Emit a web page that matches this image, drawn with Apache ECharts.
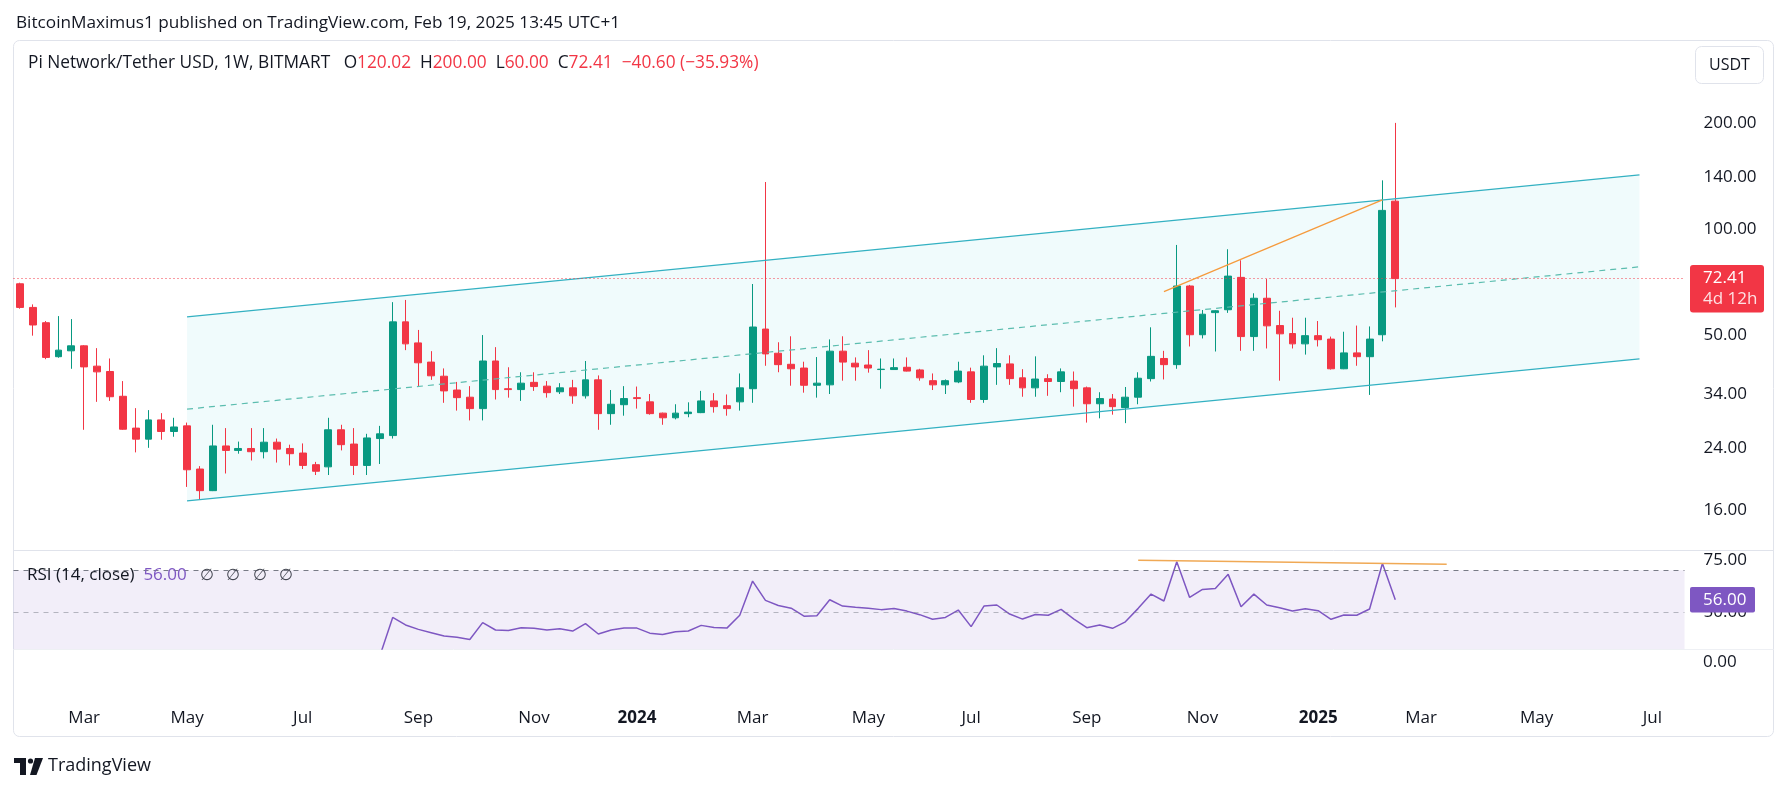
<!DOCTYPE html>
<html><head><meta charset="utf-8">
<script src="https://cdn.jsdelivr.net/npm/echarts@6/dist/echarts.min.js"></script>
<style>html,body{margin:0;padding:0;background:#fff}#c{width:1785px;height:791px}</style>
</head><body><div id="c"></div>
<script>
// ---------- DATA ----------
const firstWeek = '2023-01-30';   // Monday of first weekly candle
const weekCount = 130;            // weeks shown on the time scale (incl. future)
const opens = [70,60,54.3,43.5,45.2,46.7,40.9,39.5,33.6,27.3,
  25.4,28.8,26.7,27.7,20.9,18.15,24.3,23.6,23.9,23.4,
  24.9,23.9,23.2,21.5,21.2,27.0,24.6,21.4,25.5,26.0,
  54.6,47.6,42.0,38.3,35.0,33.4,31.0,42.3,35.3,35.1,
  36.8,35.9,34.6,35.5,33.7,37.4,30.0,31.8,33.3,32.4,
  30.1,29.2,30.0,30.2,32.6,31.6,32.4,35.3,52.1,44.5,
  41.4,40.4,36.1,36.2,45.1,41.7,41.2,40.0,40.0,40.6,
  39.9,37.2,36.2,36.9,39.4,32.9,40.7,41.5,37.9,35.5,
  37.7,37.0,37.1,35.5,32.0,33.0,31.2,33.4,37.7,43.0,
  41.3,69.0,50.2,58.0,59.1,73.0,49.6,63.7,53.3,50.6,
  47.3,49.9,48.8,40.2,44.6,43.5,50.2,120.02];
const closes = [60,53.5,43.3,45.4,46.7,40.7,39.4,33.5,27.1,25.4,
  28.8,26.7,27.5,20.8,18.15,24.3,23.6,23.9,23.4,24.9,
  23.8,23.1,21.4,20.6,27.0,24.5,21.4,25.6,26.3,54.6,
  47.3,41.8,38.4,34.8,33.3,31.0,42.3,35.1,35.1,36.6,
  35.8,34.4,35.5,33.7,37.4,30.0,31.9,33.1,33.1,30.0,
  29.2,30.1,30.3,32.6,31.4,31.0,35.5,52.8,44.3,41.3,
  40.2,36.1,36.6,45.1,42.0,40.7,40.4,40.1,40.5,39.6,
  37.9,36.2,37.2,39.6,32.9,40.9,41.6,37.7,35.5,37.6,
  37.0,39.4,35.3,32.0,33.1,31.4,33.4,37.8,43.6,41.3,
  69.0,50.2,57.4,58.7,73.6,49.6,63.7,53.2,50.5,47.3,
  49.9,48.6,40.2,44.6,43.5,48.8,113.01,72.41];
const lows = [59.5,49.9,42.8,43.2,40.2,27.0,32.4,32.6,27.0,23.3,
  24.0,25.3,25.8,18.6,17.1,18.1,20.3,23.1,22.1,22.4,
  21.8,21.4,20.9,20.1,20.1,23.6,20.1,20.1,21.6,25.5,
  45.4,35.9,37.4,32.2,30.6,28.7,28.7,32.9,33.3,32.6,
  34.8,33.3,34.1,32.0,33.1,27.0,27.9,29.6,31.0,29.8,
  27.9,28.9,29.3,30.1,30.2,29.6,30.6,32.2,41.0,39.3,
  36.0,34.4,33.3,34.1,37.2,37.2,39.2,35.3,39.9,39.5,
  37.2,35.0,34.1,36.6,32.2,32.2,36.2,36.2,33.5,33.5,
  33.7,34.5,31.4,28.3,29.1,29.8,28.2,31.9,37.0,37.5,
  40.2,46.5,49.0,45.0,57.9,45.2,45.2,45.9,37.2,45.9,
  44.1,46.5,40.0,40.1,41.0,33.9,48.1,60.0];
const highs = [70.5,61.2,54.9,56.7,55.6,46.9,46.0,43.0,37.1,31.1,
  30.7,30.1,29.2,28.3,21.3,27.9,27.3,25.0,27.3,27.3,
  25.5,24.5,24.7,21.9,29.2,27.9,27.3,26.3,27.7,62.1,
  63.0,51.8,45.1,40.3,36.9,35.9,50.1,46.3,40.6,39.3,
  39.3,37.1,36.6,37.4,42.3,38.5,35.0,35.9,35.8,34.1,
  30.2,31.9,32.3,34.8,34.3,34.0,39.0,69.9,136,47.8,
  49.7,42.1,43.4,48.7,49.7,43.3,45.4,43.0,43.0,43.3,
  40.2,39.0,37.5,42.1,40.5,43.9,46.0,43.9,40.1,43.6,
  38.8,40.3,39.5,35.8,34.5,34.1,35.7,39.3,52.7,45.2,
  90.2,69.5,59.0,58.9,87.7,81.6,65.8,72.2,58.7,56.1,
  56.1,54.9,49.6,51.2,53.3,53.0,137.5,200];
const rsi = [null,null,null,null,null,null,null,null,null,null,
  null,null,null,null,null,null,null,null,null,null,
  null,null,null,null,null,null,null,null,29.2,47.6,
  44.0,41.9,40.3,38.7,38.1,37.1,45.1,41.6,41.4,42.7,
  42.4,41.6,42.2,41.1,44.6,39.7,41.6,42.5,42.5,40.1,
  39.5,40.8,41.1,43.8,42.8,42.5,48.6,64.9,55.7,53.3,
  52.0,48.2,48.4,56.0,53.0,52.4,51.9,51.3,51.8,50.6,
  48.9,46.7,47.6,51.1,43.2,53.0,53.5,49.2,46.8,49.0,
  48.6,51.4,46.8,42.7,44.0,42.4,45.5,51.9,58.7,55.4,
  74.1,57.1,60.9,61.4,68.1,52.7,58.7,53.5,52.2,50.6,
  51.7,50.8,46.7,48.7,48.6,51.6,73.3,56.0];
const priceTicks = [200, 140, 100, 50, 34, 24, 16];
const rsiTicks = [75, 50];
const rsiBands = [70, 50, 30];
// channel drawing (week index, price)
const channelX = [13, 126];
const channelUpper = [56.4, 142.4];
const channelMid = [30.9, 78.2];
const channelLower = [16.97, 42.9];
// orange trend lines
const trendX = [89, 106];
const trendY = [66.5, 121];
const rsiTrendX = [87, 111];
const rsiTrendY = [74.8, 72.9];
const monthNames = ['Jan','Feb','Mar','Apr','May','Jun','Jul','Aug','Sep','Oct','Nov','Dec'];

// ---------- BUILD ----------
const t0 = Date.parse(firstWeek + 'T00:00:00Z');
const categories = [];
for (let i = 0; i < weekCount; i++) categories.push(new Date(t0 + i * 7 * 864e5).toISOString().slice(0, 10));
const candles = opens.map((o, i) => [o, closes[i], lows[i], highs[i]]);
const n = opens.length;
const lastClose = closes[n - 1], prevClose = closes[n - 2];
const lastRsi = rsi[rsi.length - 1];

const FONT = "'Open Sans', 'Noto Sans', sans-serif";
const TXT = '#131722', UP = '#089981', DOWN = '#F23645';
const GL = 13.5, GR = 100.5;
const Y_MIN = 12.323, Y_MAX = 341.3;
const R_MIN = 32.5, R_MAX = 79.7;

const chart = echarts.init(document.getElementById('c'), null, {renderer: 'canvas'});
const pair = (xs, ys) => xs.map((x, i) => [x, ys[i]]);

const option = {
  animation: false,
  textStyle: {fontFamily: FONT},
  grid: [
    {left: GL, right: GR, top: 41, height: 509},
    {left: GL, right: GR, top: 550, height: 99.1}
  ],
  xAxis: [
    {type: 'category', gridIndex: 0, data: categories, boundaryGap: true,
     axisLine: {show: false}, axisTick: {show: false}, axisLabel: {show: false}, splitLine: {show: false}},
    {type: 'category', gridIndex: 1, data: categories, boundaryGap: true,
     axisLine: {show: false}, axisTick: {show: false}, splitLine: {show: false},
     axisLabel: {
       margin: 61, fontSize: 17, color: TXT, fontFamily: FONT, hideOverlap: false,
       interval: (i, v) => { const d = new Date(v + 'T00:00:00Z'); return d.getUTCDate() <= 7 && d.getUTCMonth() % 2 === 0; },
       formatter: (v) => { const d = new Date(v + 'T00:00:00Z'); const m = d.getUTCMonth(); return m === 0 ? '{y|' + d.getUTCFullYear() + '}' : monthNames[m]; },
       rich: {y: {fontWeight: 'bold', fontSize: 17, color: TXT, fontFamily: FONT}}
     }}
  ],
  yAxis: [
    {type: 'log', gridIndex: 0, position: 'right', min: Y_MIN, max: Y_MAX,
     axisLine: {show: false}, axisTick: {show: false}, splitLine: {show: false},
     axisLabel: {customValues: priceTicks, formatter: v => Number(v).toFixed(2), margin: 19, fontSize: 17, color: TXT, fontFamily: FONT}},
    {type: 'value', gridIndex: 1, position: 'right', min: R_MIN, max: R_MAX,
     axisLine: {show: false}, axisTick: {show: false}, splitLine: {show: false},
     axisLabel: {customValues: rsiTicks, formatter: v => Number(v).toFixed(2), margin: 19, fontSize: 17, color: TXT, fontFamily: FONT}}
  ],
  series: [
    {type: 'custom', xAxisIndex: 0, yAxisIndex: 0, z: 1, silent: true,
     data: [[channelX[0], channelUpper[0], channelLower[0], channelX[1], channelUpper[1], channelLower[1]]],
     encode: {x: [0, 3], y: [1, 2, 4, 5]},
     renderItem: (params, api) => {
       const a = api.coord([api.value(0), api.value(1)]);
       const b = api.coord([api.value(3), api.value(4)]);
       const c = api.coord([api.value(3), api.value(5)]);
       const d = api.coord([api.value(0), api.value(2)]);
       return {type: 'polygon', shape: {points: [a, b, c, d]}, style: {fill: 'rgba(0,188,212,0.058)'}};
     }},
    {type: 'candlestick', xAxisIndex: 0, yAxisIndex: 0, z: 3, data: candles, barWidth: 7.4,
     itemStyle: {color: UP, color0: DOWN, borderColor: UP, borderColor0: DOWN, borderWidth: 1},
     markLine: {silent: true, symbol: ['none', 'none'], label: {show: false},
       lineStyle: {color: DOWN, type: [1, 3], width: 1},
       data: [{yAxis: lastClose}]}},
    {type: 'line', xAxisIndex: 0, yAxisIndex: 0, z: 4, data: pair(channelX, channelUpper), showSymbol: false, silent: true,
     lineStyle: {color: '#33b1c2', width: 1.3}},
    {type: 'line', xAxisIndex: 0, yAxisIndex: 0, z: 4, data: pair(channelX, channelLower), showSymbol: false, silent: true,
     lineStyle: {color: '#33b1c2', width: 1.3}},
    {type: 'line', xAxisIndex: 0, yAxisIndex: 0, z: 4, data: pair(channelX, channelMid), showSymbol: false, silent: true,
     lineStyle: {color: '#5bbdaf', width: 1.2, type: [6, 5]}},
    {type: 'line', xAxisIndex: 0, yAxisIndex: 0, z: 5, data: pair(trendX, trendY), showSymbol: false, silent: true,
     lineStyle: {color: '#f59b3d', width: 1.3}},
    {type: 'line', xAxisIndex: 1, yAxisIndex: 1, z: 4, data: rsi, showSymbol: false, silent: true, connectNulls: false,
     lineStyle: {color: '#7E57C2', width: 1.5},
     markArea: {silent: true, itemStyle: {color: 'rgba(126,87,194,0.1)'},
       data: [[{yAxis: rsiBands[0]}, {yAxis: Math.max(rsiBands[2], R_MIN)}]]},
     markLine: {silent: true, symbol: ['none', 'none'], label: {show: false},
       data: [
         {yAxis: rsiBands[0], lineStyle: {color: '#787b86', type: [5, 5], width: 1}},
         {yAxis: rsiBands[1], lineStyle: {color: 'rgba(120,123,134,0.5)', type: [5, 5], width: 1}}
       ]}},
    {type: 'line', xAxisIndex: 1, yAxisIndex: 1, z: 5, data: pair(rsiTrendX, rsiTrendY), showSymbol: false, silent: true,
     lineStyle: {color: '#f0a955', width: 1.5}}
  ]
};
chart.setOption(option);

// ---------- OVERLAY TEXT / BOXES ----------
const py = chart.convertToPixel({yAxisIndex: 0}, lastClose);
const ry = chart.convertToPixel({yAxisIndex: 1}, lastRsi);
const chg = lastClose - prevClose;
const pct = chg / prevClose * 100;
const fmt = v => v.toFixed(2);
const minus = v => (v < 0 ? '\u2212' + fmt(-v) : fmt(v));
const F = (s) => s + 'px ' + FONT;

const G = [
  {type: 'rect', silent: true, z: 0, shape: {x: 13.5, y: 40.5, width: 1760, height: 696, r: 6},
   style: {fill: 'none', stroke: '#e0e3eb', lineWidth: 1}},
  {type: 'line', silent: true, shape: {x1: 13.5, y1: 550.5, x2: 1773.5, y2: 550.5}, style: {stroke: '#e0e3eb', lineWidth: 1}},
  {type: 'line', silent: true, shape: {x1: 13.5, y1: 649.5, x2: 1773.5, y2: 649.5}, style: {stroke: '#eef0f4', lineWidth: 1}},
  {type: 'text', silent: true, x: 16, y: 23,
   style: {text: 'BitcoinMaximus1 published on TradingView.com, Feb 19, 2025 13:45 UTC+1', fill: TXT, font: F(17.2), verticalAlign: 'middle'}},
  {type: 'text', silent: true, x: 28, y: 63,
   style: {
     text: '{t|Pi Network/Tether USD, 1W, BITMART}   {k|O}{v|' + fmt(opens[n-1]) + '}  {k|H}{v|' + fmt(highs[n-1]) +
       '}  {k|L}{v|' + fmt(lows[n-1]) + '}  {k|C}{v|' + fmt(lastClose) + '}  {v|' + minus(chg) + ' (' + minus(pct) + '%)}',
     font: F(17.3), verticalAlign: 'middle',
     rich: {t: {fill: TXT, font: F(17.3)}, k: {fill: TXT, font: F(17.3)}, v: {fill: DOWN, font: F(17.3)}}
   }},
  {type: 'rect', silent: true, shape: {x: 1695.5, y: 46.5, width: 68, height: 37, r: 6},
   style: {fill: '#fff', stroke: '#e0e3eb', lineWidth: 1}},
  {type: 'text', silent: true, x: 1729.5, y: 65, style: {text: 'USDT', fill: TXT, font: F(16), align: 'center', verticalAlign: 'middle'}},
  // last price label
  {type: 'rect', silent: true, z: 50, shape: {x: 1690, y: py - 13.5, width: 74, height: 47.5, r: 3}, style: {fill: DOWN}},
  {type: 'text', silent: true, z: 51, x: 1703, y: py, style: {text: fmt(lastClose), fill: '#fff', font: F(17), verticalAlign: 'middle'}},
  {type: 'text', silent: true, z: 51, x: 1703, y: py + 21, style: {text: '4d 12h', fill: 'rgba(255,255,255,0.85)', font: F(17), verticalAlign: 'middle'}},
  // RSI last value label
  {type: 'rect', silent: true, z: 50, shape: {x: 1690, y: ry - 12.7, width: 65, height: 25.4, r: 2}, style: {fill: '#7E57C2'}},
  {type: 'text', silent: true, z: 51, x: 1703, y: ry, style: {text: fmt(lastRsi), fill: '#fff', font: F(17), verticalAlign: 'middle'}},
  // RSI legend
  {type: 'text', silent: true, z: 20, x: 27, y: 575,
   style: {text: '{t|RSI (14, close)}  {v|' + fmt(lastRsi) + '}   {n|\u2205   \u2205   \u2205   \u2205}', verticalAlign: 'middle', font: F(17),
     rich: {t: {fill: TXT, font: F(17)}, v: {fill: '#7E57C2', font: F(17)}, n: {fill: '#434651', font: F(16)}}}},
  {type: 'text', silent: true, x: 1703, y: 662, style: {text: '0.00', fill: TXT, font: F(17), verticalAlign: 'middle'}},
  // TradingView logo
  {type: 'rect', silent: true, shape: {x: 14, y: 758, width: 12, height: 5}, style: {fill: '#131722'}},
  {type: 'rect', silent: true, shape: {x: 20, y: 758, width: 6, height: 17}, style: {fill: '#131722'}},
  {type: 'circle', silent: true, shape: {cx: 30.5, cy: 761, r: 2.6}, style: {fill: '#131722'}},
  {type: 'polygon', silent: true, shape: {points: [[35, 758], [43, 758], [36.5, 775], [30, 775]]}, style: {fill: '#131722'}},
  {type: 'text', silent: true, x: 48, y: 766, style: {text: 'TradingView', fill: TXT, font: F(18), verticalAlign: 'middle'}}
];
chart.setOption({graphic: G});
</script></body></html>
